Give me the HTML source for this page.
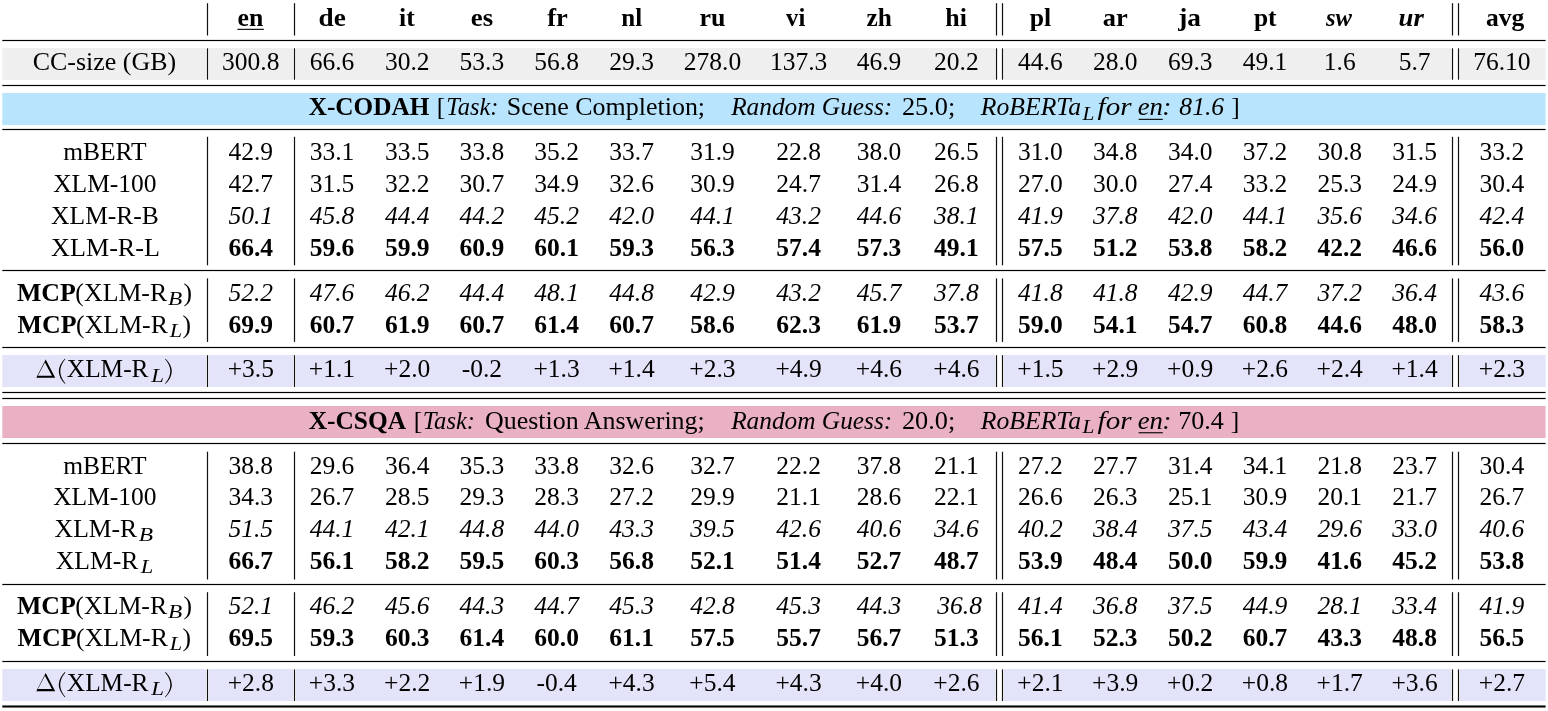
<!DOCTYPE html>
<html><head><meta charset="utf-8"><style>
html,body{margin:0;padding:0;background:#fff;}
body{width:1548px;height:711px;overflow:hidden;}
svg{display:block;will-change:transform;}
text{font-family:"Liberation Serif",serif;font-size:25.5px;fill:#000;}
</style></head><body>
<svg width="1548" height="711" viewBox="0 0 1548 711">
<rect x="2.30" y="48.00" width="1543.30" height="32.00" fill="#efefef"/>
<rect x="206.00" y="48.00" width="3.00" height="32.00" fill="#fff"/>
<rect x="293.00" y="48.00" width="3.00" height="32.00" fill="#fff"/>
<rect x="995.00" y="48.00" width="9.00" height="32.00" fill="#fff"/>
<rect x="1451.00" y="48.00" width="9.00" height="32.00" fill="#fff"/>
<rect x="2.30" y="93.00" width="1543.30" height="32.00" fill="#b8e4fd"/>
<rect x="2.30" y="355.00" width="1543.30" height="32.00" fill="#e3e3f9"/>
<rect x="206.00" y="355.00" width="3.00" height="32.00" fill="#fff"/>
<rect x="293.00" y="355.00" width="3.00" height="32.00" fill="#fff"/>
<rect x="995.00" y="355.00" width="9.00" height="32.00" fill="#fff"/>
<rect x="1451.00" y="355.00" width="9.00" height="32.00" fill="#fff"/>
<rect x="2.30" y="406.00" width="1543.30" height="32.00" fill="#eab0c4"/>
<rect x="2.30" y="669.00" width="1543.30" height="32.00" fill="#e3e3f9"/>
<rect x="206.00" y="669.00" width="3.00" height="32.00" fill="#fff"/>
<rect x="293.00" y="669.00" width="3.00" height="32.00" fill="#fff"/>
<rect x="995.00" y="669.00" width="9.00" height="32.00" fill="#fff"/>
<rect x="1451.00" y="669.00" width="9.00" height="32.00" fill="#fff"/>
<rect x="2.30" y="39.90" width="1543.30" height="1.20" fill="#000"/>
<rect x="2.30" y="84.90" width="1543.30" height="1.20" fill="#000"/>
<rect x="2.30" y="128.90" width="1543.30" height="1.20" fill="#000"/>
<rect x="2.30" y="269.90" width="1543.30" height="1.20" fill="#000"/>
<rect x="2.30" y="346.90" width="1543.30" height="1.20" fill="#000"/>
<rect x="2.30" y="391.90" width="1543.30" height="1.20" fill="#000"/>
<rect x="2.30" y="397.90" width="1543.30" height="1.20" fill="#000"/>
<rect x="2.30" y="442.90" width="1543.30" height="1.20" fill="#000"/>
<rect x="2.30" y="583.90" width="1543.30" height="1.20" fill="#000"/>
<rect x="2.30" y="660.90" width="1543.30" height="1.20" fill="#000"/>
<rect x="2.30" y="705.45" width="1543.30" height="2.10" fill="#000"/>
<rect x="206.90" y="3.20" width="1.20" height="32.30" fill="#111"/>
<rect x="293.90" y="3.20" width="1.20" height="32.30" fill="#111"/>
<rect x="995.90" y="3.20" width="1.20" height="32.30" fill="#111"/>
<rect x="1001.90" y="3.20" width="1.20" height="32.30" fill="#111"/>
<rect x="1451.90" y="3.20" width="1.20" height="32.30" fill="#111"/>
<rect x="1457.90" y="3.20" width="1.20" height="32.30" fill="#111"/>
<rect x="206.90" y="48.30" width="1.20" height="31.40" fill="#111"/>
<rect x="293.90" y="48.30" width="1.20" height="31.40" fill="#111"/>
<rect x="995.90" y="48.30" width="1.20" height="31.40" fill="#111"/>
<rect x="1001.90" y="48.30" width="1.20" height="31.40" fill="#111"/>
<rect x="1451.90" y="48.30" width="1.20" height="31.40" fill="#111"/>
<rect x="1457.90" y="48.30" width="1.20" height="31.40" fill="#111"/>
<rect x="206.90" y="136.80" width="1.20" height="128.50" fill="#111"/>
<rect x="293.90" y="136.80" width="1.20" height="128.50" fill="#111"/>
<rect x="995.90" y="136.80" width="1.20" height="128.50" fill="#111"/>
<rect x="1001.90" y="136.80" width="1.20" height="128.50" fill="#111"/>
<rect x="1451.90" y="136.80" width="1.20" height="128.50" fill="#111"/>
<rect x="1457.90" y="136.80" width="1.20" height="128.50" fill="#111"/>
<rect x="206.90" y="278.40" width="1.20" height="63.50" fill="#111"/>
<rect x="293.90" y="278.40" width="1.20" height="63.50" fill="#111"/>
<rect x="995.90" y="278.40" width="1.20" height="63.50" fill="#111"/>
<rect x="1001.90" y="278.40" width="1.20" height="63.50" fill="#111"/>
<rect x="1451.90" y="278.40" width="1.20" height="63.50" fill="#111"/>
<rect x="1457.90" y="278.40" width="1.20" height="63.50" fill="#111"/>
<rect x="206.90" y="355.20" width="1.20" height="31.80" fill="#111"/>
<rect x="293.90" y="355.20" width="1.20" height="31.80" fill="#111"/>
<rect x="995.90" y="355.20" width="1.20" height="31.80" fill="#111"/>
<rect x="1001.90" y="355.20" width="1.20" height="31.80" fill="#111"/>
<rect x="1451.90" y="355.20" width="1.20" height="31.80" fill="#111"/>
<rect x="1457.90" y="355.20" width="1.20" height="31.80" fill="#111"/>
<rect x="206.90" y="451.70" width="1.20" height="127.80" fill="#111"/>
<rect x="293.90" y="451.70" width="1.20" height="127.80" fill="#111"/>
<rect x="995.90" y="451.70" width="1.20" height="127.80" fill="#111"/>
<rect x="1001.90" y="451.70" width="1.20" height="127.80" fill="#111"/>
<rect x="1451.90" y="451.70" width="1.20" height="127.80" fill="#111"/>
<rect x="1457.90" y="451.70" width="1.20" height="127.80" fill="#111"/>
<rect x="206.90" y="592.20" width="1.20" height="63.80" fill="#111"/>
<rect x="293.90" y="592.20" width="1.20" height="63.80" fill="#111"/>
<rect x="995.90" y="592.20" width="1.20" height="63.80" fill="#111"/>
<rect x="1001.90" y="592.20" width="1.20" height="63.80" fill="#111"/>
<rect x="1451.90" y="592.20" width="1.20" height="63.80" fill="#111"/>
<rect x="1457.90" y="592.20" width="1.20" height="63.80" fill="#111"/>
<rect x="206.90" y="669.40" width="1.20" height="31.60" fill="#111"/>
<rect x="293.90" y="669.40" width="1.20" height="31.60" fill="#111"/>
<rect x="995.90" y="669.40" width="1.20" height="31.60" fill="#111"/>
<rect x="1001.90" y="669.40" width="1.20" height="31.60" fill="#111"/>
<rect x="1451.90" y="669.40" width="1.20" height="31.60" fill="#111"/>
<rect x="1457.90" y="669.40" width="1.20" height="31.60" fill="#111"/>
<text x="237.52" y="25.60" font-weight="bold" textLength="25.77" lengthAdjust="spacingAndGlyphs">en</text>
<text x="318.50" y="25.60" font-weight="bold" textLength="27.21" lengthAdjust="spacingAndGlyphs">de</text>
<text x="399.14" y="25.60" font-weight="bold" textLength="15.68" lengthAdjust="spacingAndGlyphs">it</text>
<text x="470.89" y="25.60" font-weight="bold" textLength="22.27" lengthAdjust="spacingAndGlyphs">es</text>
<text x="547.21" y="25.60" font-weight="bold" textLength="20.56" lengthAdjust="spacingAndGlyphs">fr</text>
<text x="621.33" y="25.60" font-weight="bold" textLength="20.90" lengthAdjust="spacingAndGlyphs">nl</text>
<text x="699.60" y="25.60" font-weight="bold" textLength="25.89" lengthAdjust="spacingAndGlyphs">ru</text>
<text x="786.10" y="25.60" font-weight="bold" textLength="19.16" lengthAdjust="spacingAndGlyphs">vi</text>
<text x="866.40" y="25.60" font-weight="bold" textLength="25.38" lengthAdjust="spacingAndGlyphs">zh</text>
<text x="945.35" y="25.60" font-weight="bold" textLength="21.63" lengthAdjust="spacingAndGlyphs">hi</text>
<text x="1029.67" y="25.60" font-weight="bold" textLength="21.47" lengthAdjust="spacingAndGlyphs">pl</text>
<text x="1102.85" y="25.60" font-weight="bold" textLength="25.02" lengthAdjust="spacingAndGlyphs">ar</text>
<text x="1178.23" y="25.60" font-weight="bold" textLength="22.79" lengthAdjust="spacingAndGlyphs">ja</text>
<text x="1253.88" y="25.60" font-weight="bold" textLength="22.64" lengthAdjust="spacingAndGlyphs">pt</text>
<text x="1326.03" y="25.60" font-weight="bold" font-style="italic" textLength="25.98" lengthAdjust="spacingAndGlyphs">sw</text>
<text x="1398.62" y="25.60" font-weight="bold" font-style="italic" textLength="25.28" lengthAdjust="spacingAndGlyphs">ur</text>
<text x="1485.88" y="25.60" font-weight="bold" textLength="38.37" lengthAdjust="spacingAndGlyphs">avg</text>
<rect x="237.40" y="28.80" width="26.40" height="1.10" fill="#000"/>
<text x="32.74" y="70.20" textLength="143.40" lengthAdjust="spacingAndGlyphs">CC-size (GB)</text>
<text x="250.80" y="70.20" text-anchor="middle">300.8</text>
<text x="332.00" y="70.20" text-anchor="middle">66.6</text>
<text x="407.20" y="70.20" text-anchor="middle">30.2</text>
<text x="481.90" y="70.20" text-anchor="middle">53.3</text>
<text x="556.60" y="70.20" text-anchor="middle">56.8</text>
<text x="631.60" y="70.20" text-anchor="middle">29.3</text>
<text x="712.50" y="70.20" text-anchor="middle">278.0</text>
<text x="798.60" y="70.20" text-anchor="middle">137.3</text>
<text x="879.00" y="70.20" text-anchor="middle">46.9</text>
<text x="956.40" y="70.20" text-anchor="middle">20.2</text>
<text x="1040.40" y="70.20" text-anchor="middle">44.6</text>
<text x="1115.20" y="70.20" text-anchor="middle">28.0</text>
<text x="1190.20" y="70.20" text-anchor="middle">69.3</text>
<text x="1265.00" y="70.20" text-anchor="middle">49.1</text>
<text x="1339.70" y="70.20" text-anchor="middle">1.6</text>
<text x="1414.60" y="70.20" text-anchor="middle">5.7</text>
<text x="1501.90" y="70.20" text-anchor="middle">76.10</text>
<text x="104.90" y="160.20" text-anchor="middle">mBERT</text>
<text x="250.80" y="160.20" text-anchor="middle">42.9</text>
<text x="332.00" y="160.20" text-anchor="middle">33.1</text>
<text x="407.20" y="160.20" text-anchor="middle">33.5</text>
<text x="481.90" y="160.20" text-anchor="middle">33.8</text>
<text x="556.60" y="160.20" text-anchor="middle">35.2</text>
<text x="631.60" y="160.20" text-anchor="middle">33.7</text>
<text x="712.50" y="160.20" text-anchor="middle">31.9</text>
<text x="798.60" y="160.20" text-anchor="middle">22.8</text>
<text x="879.00" y="160.20" text-anchor="middle">38.0</text>
<text x="956.40" y="160.20" text-anchor="middle">26.5</text>
<text x="1040.40" y="160.20" text-anchor="middle">31.0</text>
<text x="1115.20" y="160.20" text-anchor="middle">34.8</text>
<text x="1190.20" y="160.20" text-anchor="middle">34.0</text>
<text x="1265.00" y="160.20" text-anchor="middle">37.2</text>
<text x="1339.70" y="160.20" text-anchor="middle">30.8</text>
<text x="1414.60" y="160.20" text-anchor="middle">31.5</text>
<text x="1501.90" y="160.20" text-anchor="middle">33.2</text>
<text x="104.90" y="192.00" text-anchor="middle">XLM-100</text>
<text x="250.80" y="192.00" text-anchor="middle">42.7</text>
<text x="332.00" y="192.00" text-anchor="middle">31.5</text>
<text x="407.20" y="192.00" text-anchor="middle">32.2</text>
<text x="481.90" y="192.00" text-anchor="middle">30.7</text>
<text x="556.60" y="192.00" text-anchor="middle">34.9</text>
<text x="631.60" y="192.00" text-anchor="middle">32.6</text>
<text x="712.50" y="192.00" text-anchor="middle">30.9</text>
<text x="798.60" y="192.00" text-anchor="middle">24.7</text>
<text x="879.00" y="192.00" text-anchor="middle">31.4</text>
<text x="956.40" y="192.00" text-anchor="middle">26.8</text>
<text x="1040.40" y="192.00" text-anchor="middle">27.0</text>
<text x="1115.20" y="192.00" text-anchor="middle">30.0</text>
<text x="1190.20" y="192.00" text-anchor="middle">27.4</text>
<text x="1265.00" y="192.00" text-anchor="middle">33.2</text>
<text x="1339.70" y="192.00" text-anchor="middle">25.3</text>
<text x="1414.60" y="192.00" text-anchor="middle">24.9</text>
<text x="1501.90" y="192.00" text-anchor="middle">30.4</text>
<text x="51.14" y="223.80" textLength="107.71" lengthAdjust="spacingAndGlyphs">XLM-R-B</text>
<text x="250.80" y="223.80" font-style="italic" text-anchor="middle">50.1</text>
<text x="332.00" y="223.80" font-style="italic" text-anchor="middle">45.8</text>
<text x="407.20" y="223.80" font-style="italic" text-anchor="middle">44.4</text>
<text x="481.90" y="223.80" font-style="italic" text-anchor="middle">44.2</text>
<text x="556.60" y="223.80" font-style="italic" text-anchor="middle">45.2</text>
<text x="631.60" y="223.80" font-style="italic" text-anchor="middle">42.0</text>
<text x="712.50" y="223.80" font-style="italic" text-anchor="middle">44.1</text>
<text x="798.60" y="223.80" font-style="italic" text-anchor="middle">43.2</text>
<text x="879.00" y="223.80" font-style="italic" text-anchor="middle">44.6</text>
<text x="956.40" y="223.80" font-style="italic" text-anchor="middle">38.1</text>
<text x="1040.40" y="223.80" font-style="italic" text-anchor="middle">41.9</text>
<text x="1115.20" y="223.80" font-style="italic" text-anchor="middle">37.8</text>
<text x="1190.20" y="223.80" font-style="italic" text-anchor="middle">42.0</text>
<text x="1265.00" y="223.80" font-style="italic" text-anchor="middle">44.1</text>
<text x="1339.70" y="223.80" font-style="italic" text-anchor="middle">35.6</text>
<text x="1414.60" y="223.80" font-style="italic" text-anchor="middle">34.6</text>
<text x="1501.90" y="223.80" font-style="italic" text-anchor="middle">42.4</text>
<text x="51.13" y="255.60" textLength="108.74" lengthAdjust="spacingAndGlyphs">XLM-R-L</text>
<text x="250.80" y="255.60" font-weight="bold" text-anchor="middle">66.4</text>
<text x="332.00" y="255.60" font-weight="bold" text-anchor="middle">59.6</text>
<text x="407.20" y="255.60" font-weight="bold" text-anchor="middle">59.9</text>
<text x="481.90" y="255.60" font-weight="bold" text-anchor="middle">60.9</text>
<text x="556.60" y="255.60" font-weight="bold" text-anchor="middle">60.1</text>
<text x="631.60" y="255.60" font-weight="bold" text-anchor="middle">59.3</text>
<text x="712.50" y="255.60" font-weight="bold" text-anchor="middle">56.3</text>
<text x="798.60" y="255.60" font-weight="bold" text-anchor="middle">57.4</text>
<text x="879.00" y="255.60" font-weight="bold" text-anchor="middle">57.3</text>
<text x="956.40" y="255.60" font-weight="bold" text-anchor="middle">49.1</text>
<text x="1040.40" y="255.60" font-weight="bold" text-anchor="middle">57.5</text>
<text x="1115.20" y="255.60" font-weight="bold" text-anchor="middle">51.2</text>
<text x="1190.20" y="255.60" font-weight="bold" text-anchor="middle">53.8</text>
<text x="1265.00" y="255.60" font-weight="bold" text-anchor="middle">58.2</text>
<text x="1339.70" y="255.60" font-weight="bold" text-anchor="middle">42.2</text>
<text x="1414.60" y="255.60" font-weight="bold" text-anchor="middle">46.6</text>
<text x="1501.90" y="255.60" font-weight="bold" text-anchor="middle">56.0</text>
<text x="16.96" y="300.80" font-weight="bold" textLength="58.87" lengthAdjust="spacingAndGlyphs">MCP</text>
<text x="75.18" y="300.80">(</text>
<text x="84.03" y="300.80" textLength="83.10" lengthAdjust="spacingAndGlyphs">XLM-R</text>
<text x="168.08" y="305.00" font-style="italic" style="font-size:18.8px" textLength="14.23" lengthAdjust="spacingAndGlyphs">B</text>
<text x="183.48" y="300.80">)</text>
<text x="250.80" y="300.80" font-style="italic" text-anchor="middle">52.2</text>
<text x="332.00" y="300.80" font-style="italic" text-anchor="middle">47.6</text>
<text x="407.20" y="300.80" font-style="italic" text-anchor="middle">46.2</text>
<text x="481.90" y="300.80" font-style="italic" text-anchor="middle">44.4</text>
<text x="556.60" y="300.80" font-style="italic" text-anchor="middle">48.1</text>
<text x="631.60" y="300.80" font-style="italic" text-anchor="middle">44.8</text>
<text x="712.50" y="300.80" font-style="italic" text-anchor="middle">42.9</text>
<text x="798.60" y="300.80" font-style="italic" text-anchor="middle">43.2</text>
<text x="879.00" y="300.80" font-style="italic" text-anchor="middle">45.7</text>
<text x="956.40" y="300.80" font-style="italic" text-anchor="middle">37.8</text>
<text x="1040.40" y="300.80" font-style="italic" text-anchor="middle">41.8</text>
<text x="1115.20" y="300.80" font-style="italic" text-anchor="middle">41.8</text>
<text x="1190.20" y="300.80" font-style="italic" text-anchor="middle">42.9</text>
<text x="1265.00" y="300.80" font-style="italic" text-anchor="middle">44.7</text>
<text x="1339.70" y="300.80" font-style="italic" text-anchor="middle">37.2</text>
<text x="1414.60" y="300.80" font-style="italic" text-anchor="middle">36.4</text>
<text x="1501.90" y="300.80" font-style="italic" text-anchor="middle">43.6</text>
<text x="17.56" y="332.60" font-weight="bold" textLength="58.98" lengthAdjust="spacingAndGlyphs">MCP</text>
<text x="75.88" y="332.60">(</text>
<text x="84.73" y="332.60" textLength="83.21" lengthAdjust="spacingAndGlyphs">XLM-R</text>
<text x="169.86" y="336.80" font-style="italic" style="font-size:18.8px" textLength="12.39" lengthAdjust="spacingAndGlyphs">L</text>
<text x="182.58" y="332.60">)</text>
<text x="250.80" y="332.60" font-weight="bold" text-anchor="middle">69.9</text>
<text x="332.00" y="332.60" font-weight="bold" text-anchor="middle">60.7</text>
<text x="407.20" y="332.60" font-weight="bold" text-anchor="middle">61.9</text>
<text x="481.90" y="332.60" font-weight="bold" text-anchor="middle">60.7</text>
<text x="556.60" y="332.60" font-weight="bold" text-anchor="middle">61.4</text>
<text x="631.60" y="332.60" font-weight="bold" text-anchor="middle">60.7</text>
<text x="712.50" y="332.60" font-weight="bold" text-anchor="middle">58.6</text>
<text x="798.60" y="332.60" font-weight="bold" text-anchor="middle">62.3</text>
<text x="879.00" y="332.60" font-weight="bold" text-anchor="middle">61.9</text>
<text x="956.40" y="332.60" font-weight="bold" text-anchor="middle">53.7</text>
<text x="1040.40" y="332.60" font-weight="bold" text-anchor="middle">59.0</text>
<text x="1115.20" y="332.60" font-weight="bold" text-anchor="middle">54.1</text>
<text x="1190.20" y="332.60" font-weight="bold" text-anchor="middle">54.7</text>
<text x="1265.00" y="332.60" font-weight="bold" text-anchor="middle">60.8</text>
<text x="1339.70" y="332.60" font-weight="bold" text-anchor="middle">44.6</text>
<text x="1414.60" y="332.60" font-weight="bold" text-anchor="middle">48.0</text>
<text x="1501.90" y="332.60" font-weight="bold" text-anchor="middle">58.3</text>
<path d="M36.3 377.80 L55.2 377.80 L45.7 359.50 Z M37.9 375.70 L44.9 362.40 L51.9 375.70 Z" fill="#000" fill-rule="evenodd"/>
<path d="M64.80 358.70 Q52.80 371.25 64.80 383.80 L65.40 383.50 Q55.10 371.25 65.40 359.00 Z" fill="#000"/>
<text x="66.84" y="377.40" textLength="81.69" lengthAdjust="spacingAndGlyphs">XLM-R</text>
<text x="151.37" y="381.60" font-style="italic" style="font-size:18.8px" textLength="12.71" lengthAdjust="spacingAndGlyphs">L</text>
<path d="M165.60 358.70 Q178.00 371.25 165.60 383.80 L165.00 383.50 Q175.70 371.25 165.00 359.00 Z" fill="#000"/>
<text x="250.80" y="377.40" text-anchor="middle">+3.5</text>
<text x="332.00" y="377.40" text-anchor="middle">+1.1</text>
<text x="407.20" y="377.40" text-anchor="middle">+2.0</text>
<text x="481.90" y="377.40" text-anchor="middle">-0.2</text>
<text x="556.60" y="377.40" text-anchor="middle">+1.3</text>
<text x="631.60" y="377.40" text-anchor="middle">+1.4</text>
<text x="712.50" y="377.40" text-anchor="middle">+2.3</text>
<text x="798.60" y="377.40" text-anchor="middle">+4.9</text>
<text x="879.00" y="377.40" text-anchor="middle">+4.6</text>
<text x="956.40" y="377.40" text-anchor="middle">+4.6</text>
<text x="1040.40" y="377.40" text-anchor="middle">+1.5</text>
<text x="1115.20" y="377.40" text-anchor="middle">+2.9</text>
<text x="1190.20" y="377.40" text-anchor="middle">+0.9</text>
<text x="1265.00" y="377.40" text-anchor="middle">+2.6</text>
<text x="1339.70" y="377.40" text-anchor="middle">+2.4</text>
<text x="1414.60" y="377.40" text-anchor="middle">+1.4</text>
<text x="1501.90" y="377.40" text-anchor="middle">+2.3</text>
<text x="104.90" y="473.60" text-anchor="middle">mBERT</text>
<text x="250.80" y="473.60" text-anchor="middle">38.8</text>
<text x="332.00" y="473.60" text-anchor="middle">29.6</text>
<text x="407.20" y="473.60" text-anchor="middle">36.4</text>
<text x="481.90" y="473.60" text-anchor="middle">35.3</text>
<text x="556.60" y="473.60" text-anchor="middle">33.8</text>
<text x="631.60" y="473.60" text-anchor="middle">32.6</text>
<text x="712.50" y="473.60" text-anchor="middle">32.7</text>
<text x="798.60" y="473.60" text-anchor="middle">22.2</text>
<text x="879.00" y="473.60" text-anchor="middle">37.8</text>
<text x="956.40" y="473.60" text-anchor="middle">21.1</text>
<text x="1040.40" y="473.60" text-anchor="middle">27.2</text>
<text x="1115.20" y="473.60" text-anchor="middle">27.7</text>
<text x="1190.20" y="473.60" text-anchor="middle">31.4</text>
<text x="1265.00" y="473.60" text-anchor="middle">34.1</text>
<text x="1339.70" y="473.60" text-anchor="middle">21.8</text>
<text x="1414.60" y="473.60" text-anchor="middle">23.7</text>
<text x="1501.90" y="473.60" text-anchor="middle">30.4</text>
<text x="104.90" y="505.40" text-anchor="middle">XLM-100</text>
<text x="250.80" y="505.40" text-anchor="middle">34.3</text>
<text x="332.00" y="505.40" text-anchor="middle">26.7</text>
<text x="407.20" y="505.40" text-anchor="middle">28.5</text>
<text x="481.90" y="505.40" text-anchor="middle">29.3</text>
<text x="556.60" y="505.40" text-anchor="middle">28.3</text>
<text x="631.60" y="505.40" text-anchor="middle">27.2</text>
<text x="712.50" y="505.40" text-anchor="middle">29.9</text>
<text x="798.60" y="505.40" text-anchor="middle">21.1</text>
<text x="879.00" y="505.40" text-anchor="middle">28.6</text>
<text x="956.40" y="505.40" text-anchor="middle">22.1</text>
<text x="1040.40" y="505.40" text-anchor="middle">26.6</text>
<text x="1115.20" y="505.40" text-anchor="middle">26.3</text>
<text x="1190.20" y="505.40" text-anchor="middle">25.1</text>
<text x="1265.00" y="505.40" text-anchor="middle">30.9</text>
<text x="1339.70" y="505.40" text-anchor="middle">20.1</text>
<text x="1414.60" y="505.40" text-anchor="middle">21.7</text>
<text x="1501.90" y="505.40" text-anchor="middle">26.7</text>
<text x="54.64" y="537.20" textLength="82.60" lengthAdjust="spacingAndGlyphs">XLM-R</text>
<text x="138.78" y="541.40" font-style="italic" style="font-size:18.8px" textLength="14.33" lengthAdjust="spacingAndGlyphs">B</text>
<text x="250.80" y="537.20" font-style="italic" text-anchor="middle">51.5</text>
<text x="332.00" y="537.20" font-style="italic" text-anchor="middle">44.1</text>
<text x="407.20" y="537.20" font-style="italic" text-anchor="middle">42.1</text>
<text x="481.90" y="537.20" font-style="italic" text-anchor="middle">44.8</text>
<text x="556.60" y="537.20" font-style="italic" text-anchor="middle">44.0</text>
<text x="631.60" y="537.20" font-style="italic" text-anchor="middle">43.3</text>
<text x="712.50" y="537.20" font-style="italic" text-anchor="middle">39.5</text>
<text x="798.60" y="537.20" font-style="italic" text-anchor="middle">42.6</text>
<text x="879.00" y="537.20" font-style="italic" text-anchor="middle">40.6</text>
<text x="956.40" y="537.20" font-style="italic" text-anchor="middle">34.6</text>
<text x="1040.40" y="537.20" font-style="italic" text-anchor="middle">40.2</text>
<text x="1115.20" y="537.20" font-style="italic" text-anchor="middle">38.4</text>
<text x="1190.20" y="537.20" font-style="italic" text-anchor="middle">37.5</text>
<text x="1265.00" y="537.20" font-style="italic" text-anchor="middle">43.4</text>
<text x="1339.70" y="537.20" font-style="italic" text-anchor="middle">29.6</text>
<text x="1414.60" y="537.20" font-style="italic" text-anchor="middle">33.0</text>
<text x="1501.90" y="537.20" font-style="italic" text-anchor="middle">40.6</text>
<text x="55.74" y="569.00" textLength="82.70" lengthAdjust="spacingAndGlyphs">XLM-R</text>
<text x="140.66" y="573.20" font-style="italic" style="font-size:18.8px" textLength="12.50" lengthAdjust="spacingAndGlyphs">L</text>
<text x="250.80" y="569.00" font-weight="bold" text-anchor="middle">66.7</text>
<text x="332.00" y="569.00" font-weight="bold" text-anchor="middle">56.1</text>
<text x="407.20" y="569.00" font-weight="bold" text-anchor="middle">58.2</text>
<text x="481.90" y="569.00" font-weight="bold" text-anchor="middle">59.5</text>
<text x="556.60" y="569.00" font-weight="bold" text-anchor="middle">60.3</text>
<text x="631.60" y="569.00" font-weight="bold" text-anchor="middle">56.8</text>
<text x="712.50" y="569.00" font-weight="bold" text-anchor="middle">52.1</text>
<text x="798.60" y="569.00" font-weight="bold" text-anchor="middle">51.4</text>
<text x="879.00" y="569.00" font-weight="bold" text-anchor="middle">52.7</text>
<text x="956.40" y="569.00" font-weight="bold" text-anchor="middle">48.7</text>
<text x="1040.40" y="569.00" font-weight="bold" text-anchor="middle">53.9</text>
<text x="1115.20" y="569.00" font-weight="bold" text-anchor="middle">48.4</text>
<text x="1190.20" y="569.00" font-weight="bold" text-anchor="middle">50.0</text>
<text x="1265.00" y="569.00" font-weight="bold" text-anchor="middle">59.9</text>
<text x="1339.70" y="569.00" font-weight="bold" text-anchor="middle">41.6</text>
<text x="1414.60" y="569.00" font-weight="bold" text-anchor="middle">45.2</text>
<text x="1501.90" y="569.00" font-weight="bold" text-anchor="middle">53.8</text>
<text x="16.96" y="614.20" font-weight="bold" textLength="58.87" lengthAdjust="spacingAndGlyphs">MCP</text>
<text x="75.18" y="614.20">(</text>
<text x="84.03" y="614.20" textLength="83.10" lengthAdjust="spacingAndGlyphs">XLM-R</text>
<text x="168.08" y="618.40" font-style="italic" style="font-size:18.8px" textLength="14.23" lengthAdjust="spacingAndGlyphs">B</text>
<text x="183.48" y="614.20">)</text>
<text x="250.80" y="614.20" font-style="italic" text-anchor="middle">52.1</text>
<text x="332.00" y="614.20" font-style="italic" text-anchor="middle">46.2</text>
<text x="407.20" y="614.20" font-style="italic" text-anchor="middle">45.6</text>
<text x="481.90" y="614.20" font-style="italic" text-anchor="middle">44.3</text>
<text x="556.60" y="614.20" font-style="italic" text-anchor="middle">44.7</text>
<text x="631.60" y="614.20" font-style="italic" text-anchor="middle">45.3</text>
<text x="712.50" y="614.20" font-style="italic" text-anchor="middle">42.8</text>
<text x="798.60" y="614.20" font-style="italic" text-anchor="middle">45.3</text>
<text x="879.00" y="614.20" font-style="italic" text-anchor="middle">44.3</text>
<text x="959.60" y="614.20" font-style="italic" text-anchor="middle">36.8</text>
<text x="1040.40" y="614.20" font-style="italic" text-anchor="middle">41.4</text>
<text x="1115.20" y="614.20" font-style="italic" text-anchor="middle">36.8</text>
<text x="1190.20" y="614.20" font-style="italic" text-anchor="middle">37.5</text>
<text x="1265.00" y="614.20" font-style="italic" text-anchor="middle">44.9</text>
<text x="1339.70" y="614.20" font-style="italic" text-anchor="middle">28.1</text>
<text x="1414.60" y="614.20" font-style="italic" text-anchor="middle">33.4</text>
<text x="1501.90" y="614.20" font-style="italic" text-anchor="middle">41.9</text>
<text x="17.56" y="646.00" font-weight="bold" textLength="58.98" lengthAdjust="spacingAndGlyphs">MCP</text>
<text x="75.88" y="646.00">(</text>
<text x="84.73" y="646.00" textLength="83.21" lengthAdjust="spacingAndGlyphs">XLM-R</text>
<text x="169.86" y="650.20" font-style="italic" style="font-size:18.8px" textLength="12.39" lengthAdjust="spacingAndGlyphs">L</text>
<text x="182.58" y="646.00">)</text>
<text x="250.80" y="646.00" font-weight="bold" text-anchor="middle">69.5</text>
<text x="332.00" y="646.00" font-weight="bold" text-anchor="middle">59.3</text>
<text x="407.20" y="646.00" font-weight="bold" text-anchor="middle">60.3</text>
<text x="481.90" y="646.00" font-weight="bold" text-anchor="middle">61.4</text>
<text x="556.60" y="646.00" font-weight="bold" text-anchor="middle">60.0</text>
<text x="631.60" y="646.00" font-weight="bold" text-anchor="middle">61.1</text>
<text x="712.50" y="646.00" font-weight="bold" text-anchor="middle">57.5</text>
<text x="798.60" y="646.00" font-weight="bold" text-anchor="middle">55.7</text>
<text x="879.00" y="646.00" font-weight="bold" text-anchor="middle">56.7</text>
<text x="956.40" y="646.00" font-weight="bold" text-anchor="middle">51.3</text>
<text x="1040.40" y="646.00" font-weight="bold" text-anchor="middle">56.1</text>
<text x="1115.20" y="646.00" font-weight="bold" text-anchor="middle">52.3</text>
<text x="1190.20" y="646.00" font-weight="bold" text-anchor="middle">50.2</text>
<text x="1265.00" y="646.00" font-weight="bold" text-anchor="middle">60.7</text>
<text x="1339.70" y="646.00" font-weight="bold" text-anchor="middle">43.3</text>
<text x="1414.60" y="646.00" font-weight="bold" text-anchor="middle">48.8</text>
<text x="1501.90" y="646.00" font-weight="bold" text-anchor="middle">56.5</text>
<path d="M36.3 691.20 L55.2 691.20 L45.7 672.90 Z M37.9 689.10 L44.9 675.80 L51.9 689.10 Z" fill="#000" fill-rule="evenodd"/>
<path d="M64.80 672.10 Q52.80 684.65 64.80 697.20 L65.40 696.90 Q55.10 684.65 65.40 672.40 Z" fill="#000"/>
<text x="66.84" y="690.80" textLength="81.69" lengthAdjust="spacingAndGlyphs">XLM-R</text>
<text x="151.37" y="695.00" font-style="italic" style="font-size:18.8px" textLength="12.71" lengthAdjust="spacingAndGlyphs">L</text>
<path d="M165.60 672.10 Q178.00 684.65 165.60 697.20 L165.00 696.90 Q175.70 684.65 165.00 672.40 Z" fill="#000"/>
<text x="250.80" y="690.80" text-anchor="middle">+2.8</text>
<text x="332.00" y="690.80" text-anchor="middle">+3.3</text>
<text x="407.20" y="690.80" text-anchor="middle">+2.2</text>
<text x="481.90" y="690.80" text-anchor="middle">+1.9</text>
<text x="556.60" y="690.80" text-anchor="middle">-0.4</text>
<text x="631.60" y="690.80" text-anchor="middle">+4.3</text>
<text x="712.50" y="690.80" text-anchor="middle">+5.4</text>
<text x="798.60" y="690.80" text-anchor="middle">+4.3</text>
<text x="879.00" y="690.80" text-anchor="middle">+4.0</text>
<text x="956.40" y="690.80" text-anchor="middle">+2.6</text>
<text x="1040.40" y="690.80" text-anchor="middle">+2.1</text>
<text x="1115.20" y="690.80" text-anchor="middle">+3.9</text>
<text x="1190.20" y="690.80" text-anchor="middle">+0.2</text>
<text x="1265.00" y="690.80" text-anchor="middle">+0.8</text>
<text x="1339.70" y="690.80" text-anchor="middle">+1.7</text>
<text x="1414.60" y="690.80" text-anchor="middle">+3.6</text>
<text x="1501.90" y="690.80" text-anchor="middle">+2.7</text>
<text x="308.73" y="115.40" font-weight="bold" textLength="120.69" lengthAdjust="spacingAndGlyphs">X-CODAH</text>
<text x="436.81" y="115.40">[</text>
<text x="446.37" y="115.40" font-style="italic" textLength="52.09" lengthAdjust="spacingAndGlyphs">Task:</text>
<text x="506.76" y="115.40" textLength="198.33" lengthAdjust="spacingAndGlyphs">Scene Completion;</text>
<text x="731.14" y="115.40" font-style="italic" textLength="161.07" lengthAdjust="spacingAndGlyphs">Random Guess:</text>
<text x="901.94" y="115.40" textLength="53.37" lengthAdjust="spacingAndGlyphs">25.0;</text>
<text x="980.83" y="115.40" font-style="italic" textLength="100.21" lengthAdjust="spacingAndGlyphs">RoBERTa</text>
<text x="1082.45" y="119.60" font-style="italic" style="font-size:18.8px" textLength="11.86" lengthAdjust="spacingAndGlyphs">L</text>
<text x="1097.57" y="115.40" font-style="italic" textLength="33.94" lengthAdjust="spacingAndGlyphs">for</text>
<text x="1137.78" y="115.40" font-style="italic" textLength="25.23" lengthAdjust="spacingAndGlyphs">en</text>
<rect x="1138.60" y="118.80" width="24.20" height="1.10" fill="#000"/>
<text x="1162.34" y="115.40" font-style="italic" textLength="9.26" lengthAdjust="spacingAndGlyphs">:</text>
<text x="1179.36" y="115.40" font-style="italic" textLength="44.76" lengthAdjust="spacingAndGlyphs">81.6</text>
<text x="1231.28" y="115.40">]</text>
<text x="308.73" y="428.80" font-weight="bold" textLength="97.36" lengthAdjust="spacingAndGlyphs">X-CSQA</text>
<text x="413.71" y="428.80">[</text>
<text x="422.66" y="428.80" font-style="italic" textLength="52.41" lengthAdjust="spacingAndGlyphs">Task:</text>
<text x="484.94" y="428.80" textLength="219.83" lengthAdjust="spacingAndGlyphs">Question Answering;</text>
<text x="731.14" y="428.80" font-style="italic" textLength="161.07" lengthAdjust="spacingAndGlyphs">Random Guess:</text>
<text x="901.94" y="428.80" textLength="53.37" lengthAdjust="spacingAndGlyphs">20.0;</text>
<text x="980.83" y="428.80" font-style="italic" textLength="100.21" lengthAdjust="spacingAndGlyphs">RoBERTa</text>
<text x="1082.45" y="433.00" font-style="italic" style="font-size:18.8px" textLength="11.86" lengthAdjust="spacingAndGlyphs">L</text>
<text x="1097.57" y="428.80" font-style="italic" textLength="33.94" lengthAdjust="spacingAndGlyphs">for</text>
<text x="1137.78" y="428.80" font-style="italic" textLength="25.23" lengthAdjust="spacingAndGlyphs">en</text>
<rect x="1138.60" y="432.20" width="24.20" height="1.10" fill="#000"/>
<text x="1162.34" y="428.80" font-style="italic" textLength="9.26" lengthAdjust="spacingAndGlyphs">:</text>
<text x="1178.18" y="428.80" textLength="45.73" lengthAdjust="spacingAndGlyphs">70.4</text>
<text x="1230.68" y="428.80">]</text>
</svg>
</body></html>
